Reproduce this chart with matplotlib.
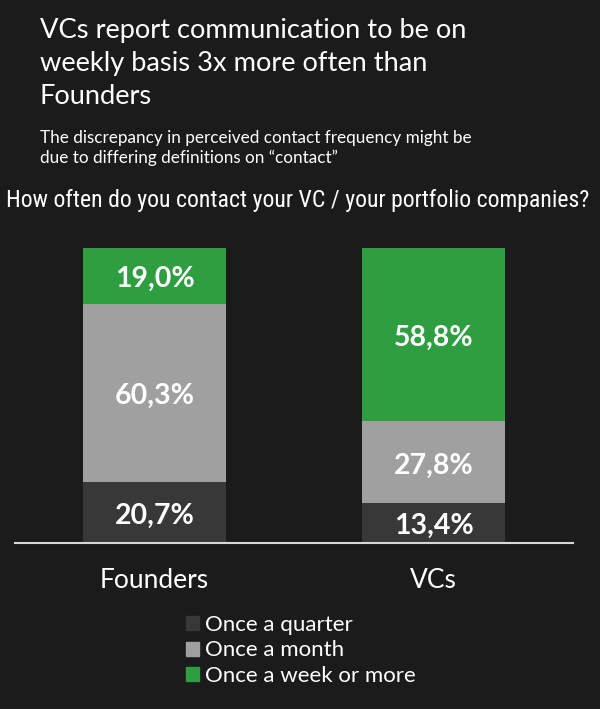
import matplotlib
matplotlib.use("Agg")
import matplotlib.pyplot as plt
from matplotlib.patches import Patch

groups = ["Founders", "VCs"]
series = ["Once a quarter", "Once a month", "Once a week or more"]
quarter = [20.7, 13.4]
month = [60.3, 27.8]
week = [19.0, 58.8]
colors = ["#383838", "#a0a0a0", "#2f9e41"]

bg = "#1b1b1b"
main_font = ["Lato", "DejaVu Sans"]
narrow_font = ["Roboto Condensed", "Open Sans", "Lato"]

fig = plt.figure(figsize=(6, 7.09), dpi=100, facecolor=bg)

fig.text(40 / 600, 1 - 18 / 709,
         "VCs report communication to be on\nweekly basis 3x more often than\nFounders",
         color="white", fontsize=19.6, family=main_font, va="top", ha="left",
         linespacing=1.4)
fig.text(40 / 600, 1 - 130 / 709,
         "The discrepancy in perceived contact frequency might be\ndue to differing definitions on \u201ccontact\u201d",
         color="white", fontsize=12.3, family=main_font, va="top", ha="left",
         linespacing=1.3)
q = fig.text(6 / 600, 1 - 189 / 709,
             "How often do you contact your VC / your portfolio companies?",
             color="white", fontsize=19, family=narrow_font, fontweight="normal",
             fontstretch="condensed", va="top", ha="left")
# shrink the question so it spans the same width as in the original
renderer = fig.canvas.get_renderer()
w = q.get_window_extent(renderer).width
q.set_fontsize(19 * 582 / w)

ax = fig.add_axes([15 / 600, (709 - 543) / 709, 558 / 600, (543 - 248) / 709])
ax.set_facecolor(bg)

x = range(len(groups))
bottom = [0, 0]
for vals, col in zip([quarter, month, week], colors):
    ax.bar(x, vals, bottom=bottom, width=0.513, color=col)
    for xi, v, b in zip(x, vals, bottom):
        ax.text(xi, b + v / 2 - 1, f"{v:.1f}%".replace(".", ","), ha="center", va="center",
                color="white", fontsize=20.5, fontweight="bold", family=main_font)
    bottom = [b + v for b, v in zip(bottom, vals)]

ax.set_xlim(-0.5, 1.5)
ax.set_ylim(0, 100)
for s in ["top", "right", "left"]:
    ax.spines[s].set_visible(False)
ax.spines["bottom"].set_color("#d8d8d8")
ax.spines["bottom"].set_linewidth(1.5)
ax.set_yticks([])
ax.set_xticks(list(x))
ax.set_xticklabels(groups, color="white", fontsize=19, family=main_font)
ax.tick_params(axis="x", length=0, pad=18)

handles = [Patch(color=c, label=s) for c, s in zip(colors, series)]
leg = fig.legend(handles=handles, loc="upper left", bbox_to_anchor=(175 / 600, 1 - 604 / 709),
                 frameon=False, fontsize=16, handlelength=0.6, handleheight=0.6,
                 handletextpad=0.25, labelspacing=0.24, borderpad=0)
for t in leg.get_texts():
    t.set_color("white")
    t.set_family(main_font)

fig.savefig("out.png", dpi=100, facecolor=bg)
